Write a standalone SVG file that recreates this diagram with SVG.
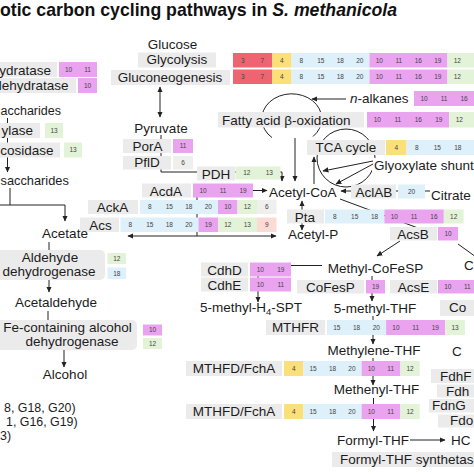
<svg xmlns="http://www.w3.org/2000/svg" width="474" height="474" viewBox="0 0 474 474">
<defs>
<style>
.t{font-family:"Liberation Sans",Arial,sans-serif;font-size:13.5px;fill:#1c1c1c}
.m{text-anchor:middle}
.e{text-anchor:end}
.bx{fill:#ebebeb}
.c{font-family:"Liberation Sans",Arial,sans-serif;font-size:6.5px;text-anchor:middle;fill:#444}
.r{fill:#ee6572}.y{fill:#fbe07a}.b{fill:#def0fa}.p{fill:#e9a3ef}.g{fill:#e3f3d8}.s{fill:#fbdbd3}.w{fill:#efefed}
.ln{stroke:#222;stroke-width:1;fill:none}
.ar{marker-end:url(#ah)}
.ar2{marker-start:url(#ah);marker-end:url(#ah)}
</style>
<marker id="ah" viewBox="0 0 10 10" refX="9" refY="5" markerWidth="6" markerHeight="6" orient="auto-start-reverse"><path d="M0,0.5 L10,5 L0,9.5 z" fill="#222"/></marker>
</defs>
<rect width="474" height="474" fill="#fff"/>
<text x="0" y="15.5" font-family="Liberation Sans, Arial, sans-serif" font-weight="bold" font-size="17.7" fill="#111">otic carbon cycling pathways in <tspan font-style="italic">S. methanicola</tspan></text>

<g id="connectors">
<line class="ln ar2" x1="160" y1="87" x2="160" y2="117"/>
<line class="ln ar" x1="7.5" y1="118" x2="7.5" y2="172"/>
<path class="ln" d="M10,188 V205"/>
<path class="ln ar" d="M-2,205 H65 V221"/>
<path class="ln ar" d="M161,135 V172 H282 V181"/>
<line class="ln ar2" x1="128" y1="236" x2="276" y2="236"/>
<path class="ln ar" d="M197,236 V190.5 H267"/>
<path class="ln" d="M272,137.6 A30,25 0 1 1 313,136.5"/>
<line class="ln ar" x1="346" y1="99" x2="312" y2="99"/>
<line class="ln ar" x1="295" y1="138" x2="295" y2="181"/>
<line class="ln ar" x1="314" y1="184" x2="314" y2="157"/>
<circle class="ln" cx="346" cy="158" r="29"/>
<line class="ln ar" x1="430" y1="191" x2="341" y2="191"/>
<line class="ln ar2" x1="302" y1="201" x2="302" y2="230"/>
<line class="ln" x1="340" y1="199" x2="418" y2="228"/>
<line class="ln ar" x1="400" y1="241" x2="377" y2="256"/>
<line class="ln" x1="458" y1="244" x2="476" y2="257"/>
<path class="ln ar" d="M322,265.5 H258 V302"/>
<line class="ln ar" x1="372" y1="276" x2="372" y2="301"/>
<line class="ln ar" x1="373" y1="316" x2="373" y2="344"/>
<line class="ln ar" x1="373" y1="358" x2="373" y2="385"/>
<line class="ln ar" x1="373.5" y1="398" x2="373.5" y2="431"/>
<line class="ln ar" x1="410" y1="440" x2="445" y2="440"/>
<line class="ln ar" x1="49" y1="242" x2="49" y2="292"/>
<line class="ln" x1="48" y1="311" x2="48" y2="321"/>
<line class="ln ar" x1="64" y1="345" x2="64" y2="367"/>
</g>

<g id="glyoxylate">
<rect x="372" y="158" width="104" height="15" fill="#fff"/>
<text class="t" x="374" y="170">Glyoxylate shunt</text>
<line class="ln ar" x1="373" y1="161" x2="323" y2="171"/>
<line class="ln ar" x1="373" y1="164" x2="336" y2="184"/>
</g>

<g id="dehydratase1">
<rect class="bx" x="-2" y="62" width="59" height="15"/>
<text class="t e" x="51" y="74.5">ydratase</text>
<rect class="p" x="59" y="62" width="19" height="15"/><text class="c" x="68.5" y="71.8">10</text>
<rect class="p" x="78" y="62" width="19" height="15"/><text class="c" x="87.5" y="71.8">11</text>
</g>
<g id="dehydratase2">
<rect class="bx" x="-2" y="78" width="78" height="15"/>
<text class="t e" x="68.5" y="90">lehydratase</text>
<rect class="p" x="78" y="78" width="19" height="15"/><text class="c" x="87.5" y="87.8">10</text>
</g>
<g id="polysaccharides"><text class="t" x="0.5" y="115" style="font-size:12.5px">accharides</text></g>
<g id="ylase">
<rect class="bx" x="-2" y="123" width="42" height="15"/>
<text class="t e" x="33" y="135">ylase</text>
<rect class="g" x="45" y="123" width="18" height="15"/><text class="c" x="54" y="132.8">13</text>
</g>
<g id="cosidase">
<rect class="bx" x="-2" y="142.5" width="62" height="15"/>
<text class="t e" x="53.5" y="155">cosidase</text>
<rect class="g" x="64" y="142.5" width="18" height="15"/><text class="c" x="73" y="152.3">13</text>
</g>
<g id="saccharides"><text class="t" x="0.5" y="185" style="font-size:12.8px">saccharides</text></g>

<g id="glucose"><text class="t m" x="172.5" y="49">Glucose</text></g>
<g id="glycolysis">
<rect class="bx" x="138" y="52.5" width="78" height="15"/>
<text class="t m" x="177" y="64">Glycolysis</text>
<rect class="r" x="233" y="53" width="39" height="14.5"/>
<rect class="y" x="272" y="53" width="19.5" height="14.5"/>
<rect class="b" x="291.5" y="53" width="78" height="14.5"/>
<rect class="p" x="369.5" y="53" width="78" height="14.5"/>
<rect class="g" x="447.5" y="53" width="30" height="14.5"/>
<text class="c" x="242.75" y="62.5">3</text><text class="c" x="262.25" y="62.5">7</text><text class="c" x="281.75" y="62.5">4</text>
<text class="c" x="301.25" y="62.5">8</text><text class="c" x="320.75" y="62.5">15</text><text class="c" x="340.25" y="62.5">18</text><text class="c" x="359.75" y="62.5">20</text>
<text class="c" x="379.25" y="62.5">10</text><text class="c" x="398.75" y="62.5">11</text><text class="c" x="418.25" y="62.5">16</text><text class="c" x="437.75" y="62.5">19</text>
<text class="c" x="457.25" y="62.5">12</text>
</g>
<g id="gluconeogenesis">
<rect class="bx" x="111" y="70" width="119" height="15"/>
<text class="t m" x="170" y="82">Gluconeogenesis</text>
<rect class="r" x="233" y="69.5" width="39" height="14.5"/>
<rect class="y" x="272" y="69.5" width="19.5" height="14.5"/>
<rect class="b" x="291.5" y="69.5" width="78" height="14.5"/>
<rect class="p" x="369.5" y="69.5" width="78" height="14.5"/>
<rect class="g" x="447.5" y="69.5" width="30" height="14.5"/>
<text class="c" x="242.75" y="79">3</text><text class="c" x="262.25" y="79">7</text><text class="c" x="281.75" y="79">4</text>
<text class="c" x="301.25" y="79">8</text><text class="c" x="320.75" y="79">15</text><text class="c" x="340.25" y="79">18</text><text class="c" x="359.75" y="79">20</text>
<text class="c" x="379.25" y="79">10</text><text class="c" x="398.75" y="79">11</text><text class="c" x="418.25" y="79">16</text><text class="c" x="437.75" y="79">19</text>
<text class="c" x="457.25" y="79">12</text>
</g>

<g id="nalkanes">
<text class="t" x="350" y="103"><tspan font-style="italic">n</tspan>-alkanes</text>
<rect class="p" x="414" y="91" width="62" height="15"/>
<text class="c" x="424" y="100.8">10</text><text class="c" x="444" y="100.8">11</text><text class="c" x="464" y="100.8">16</text>
</g>
<g id="betaox">
<rect class="bx" x="218" y="112" width="146" height="15.5"/>
<text class="t" x="222" y="124.5">Fatty acid β-oxidation</text>
<rect class="p" x="367" y="112" width="82" height="15.5"/>
<rect class="g" x="449" y="112" width="30" height="15.5"/>
<text class="c" x="377.25" y="122">10</text><text class="c" x="397.75" y="122">11</text><text class="c" x="418.25" y="122">16</text><text class="c" x="438.75" y="122">19</text><text class="c" x="459.25" y="122">12</text>
</g>
<g id="tca">
<rect class="bx" x="307" y="140" width="78" height="15"/>
<text class="t m" x="346" y="152">TCA cycle</text>
<rect class="y" x="386" y="140" width="20.5" height="15"/>
<rect class="b" x="406.5" y="140" width="72" height="15"/>
<text class="c" x="396.25" y="149.8">4</text><text class="c" x="416.75" y="149.8">8</text><text class="c" x="437.25" y="149.8">15</text><text class="c" x="457.75" y="149.8">18</text>
</g>

<g id="pyruvate"><text class="t m" x="161" y="133">Pyruvate</text></g>
<g id="pora">
<rect class="bx" x="123" y="139" width="48" height="14"/>
<text class="t m" x="147.5" y="150.5">PorA</text>
<rect class="p" x="173" y="139" width="20" height="14"/><text class="c" x="183" y="148.3">11</text>
</g>
<g id="pfld">
<rect class="bx" x="123" y="156" width="48" height="13.5"/>
<text class="t m" x="147" y="167">PflD</text>
<rect class="w" x="173" y="156" width="20" height="13.5"/><text class="c" x="183" y="165">6</text>
</g>
<g id="pdh">
<rect class="bx" x="197" y="166.5" width="38" height="14"/>
<text class="t m" x="216" y="178.5">PDH</text>
<rect class="g" x="235.5" y="166.5" width="45" height="13"/>
<text class="c" x="246.75" y="175.3">12</text><text class="c" x="269.25" y="175.3">13</text>
</g>
<g id="acda">
<rect class="bx" x="142" y="183.5" width="49" height="14"/>
<text class="t m" x="166" y="195.5">AcdA</text>
<rect class="p" x="193" y="183.5" width="60" height="14"/>
<text class="c" x="203" y="192.8">10</text><text class="c" x="223" y="192.8">11</text><text class="c" x="243" y="192.8">19</text>
</g>
<g id="acka">
<rect class="bx" x="88" y="200" width="50" height="14"/>
<text class="t m" x="112.5" y="212">AckA</text>
<rect class="b" x="140" y="200" width="78" height="14"/>
<rect class="p" x="218" y="200" width="19.5" height="14"/>
<rect class="g" x="237.5" y="200" width="19.5" height="14"/>
<rect class="w" x="257" y="200" width="19.5" height="14"/>
<text class="c" x="149.75" y="209.3">8</text><text class="c" x="169.25" y="209.3">15</text><text class="c" x="188.75" y="209.3">18</text><text class="c" x="208.25" y="209.3">20</text>
<text class="c" x="227.75" y="209.3">10</text><text class="c" x="247.25" y="209.3">12</text><text class="c" x="266.75" y="209.3">6</text>
</g>
<g id="acs">
<rect class="bx" x="80" y="217.5" width="39" height="14.5"/>
<text class="t m" x="100.5" y="229.5">Acs</text>
<rect class="b" x="120.5" y="217.5" width="78" height="14.5"/>
<rect class="p" x="198.5" y="217.5" width="19.5" height="14.5"/>
<rect class="g" x="218" y="217.5" width="39" height="14.5"/>
<rect class="s" x="257" y="217.5" width="19.5" height="14.5"/>
<text class="c" x="130.25" y="227">8</text><text class="c" x="149.75" y="227">15</text><text class="c" x="169.25" y="227">18</text><text class="c" x="188.75" y="227">20</text>
<text class="c" x="208.25" y="227">19</text><text class="c" x="227.75" y="227">12</text><text class="c" x="247.25" y="227">13</text><text class="c" x="266.75" y="227">9</text>
</g>
<g id="acetate"><text class="t m" x="65" y="238">Acetate</text></g>
<g id="acetylcoa"><text class="t" x="269" y="197">Acetyl-CoA</text></g>
<g id="pta">
<rect class="bx" x="287" y="209.5" width="37" height="14"/>
<text class="t m" x="305" y="221.5">Pta</text>
<rect class="b" x="325" y="209.5" width="59.4" height="14"/>
<rect class="p" x="384.4" y="209.5" width="59.4" height="14"/>
<rect class="g" x="443.8" y="209.5" width="19.8" height="14"/>
<text class="c" x="334.9" y="218.8">8</text><text class="c" x="354.7" y="218.8">15</text><text class="c" x="374.5" y="218.8">18</text>
<text class="c" x="394.3" y="218.8">10</text><text class="c" x="414.1" y="218.8">11</text><text class="c" x="433.9" y="218.8">16</text><text class="c" x="453.7" y="218.8">12</text>
</g>
<g id="acetylp"><text class="t" x="288" y="238.5">Acetyl-P</text></g>
<g id="aclab">
<rect class="bx" x="351" y="184.5" width="45" height="14"/>
<text class="t m" x="374" y="196.5">AclAB</text>
<rect class="b" x="398" y="184.5" width="27" height="14"/><text class="c" x="411.5" y="193.8">20</text>
</g>
<g id="citrate"><text class="t" x="431" y="200">Citrate</text></g>
<g id="acsb">
<rect class="bx" x="390" y="227" width="47" height="13.5"/>
<text class="t m" x="413" y="238.5">AcsB</text>
<rect class="p" x="438" y="227" width="20" height="13.5"/><text class="c" x="448" y="236">10</text>
</g>
<g id="c-top"><text class="t" x="464" y="270">C</text></g>

<g id="aldehyde-dh">
<rect class="bx" x="-6" y="250" width="111" height="30" rx="5"/>
<text class="t m" x="50" y="262">Aldehyde</text>
<text class="t m" x="49" y="276">dehydrogenase</text>
<rect class="g" x="107.5" y="253" width="18.5" height="11"/><text class="c" x="116.75" y="260.8">12</text>
<rect class="b" x="107.5" y="267.5" width="18.5" height="11.5"/><text class="c" x="116.75" y="275.5">18</text>
</g>
<g id="acetaldehyde"><text class="t m" x="56" y="307">Acetaldehyde</text></g>
<g id="fe-adh">
<rect class="bx" x="-6" y="320" width="143" height="30" rx="5"/>
<text class="t m" x="67.5" y="332">Fe-containing alcohol</text>
<text class="t m" x="72" y="346">dehydrogenase</text>
<rect class="p" x="143" y="324.5" width="19" height="11"/><text class="c" x="152.5" y="332.3">10</text>
<rect class="g" x="143" y="338" width="19" height="11"/><text class="c" x="152.5" y="345.8">12</text>
</g>
<g id="alcohol"><text class="t m" x="65" y="379">Alcohol</text></g>

<g id="legend" font-family="Liberation Sans, Arial, sans-serif" font-size="12.4" fill="#1c1c1c">
<text x="4" y="411.5">8, G18, G20)</text>
<text x="6" y="425.5">1, G16, G19)</text>
<text x="0" y="439.5">3)</text>
</g>

<g id="methylcofesp"><text class="t m" x="375.5" y="273">Methyl-CoFeSP</text></g>
<g id="cdhd">
<rect class="bx" x="201" y="262.5" width="47" height="14"/>
<text class="t m" x="224.5" y="274.5">CdhD</text>
<rect class="p" x="250" y="262.5" width="41" height="14"/>
<text class="c" x="260.25" y="271.8">10</text><text class="c" x="280.75" y="271.8">19</text>
</g>
<g id="cdhe">
<rect class="bx" x="201" y="277.5" width="47" height="14"/>
<text class="t m" x="224.5" y="289.5">CdhE</text>
<rect class="p" x="250" y="277.5" width="41" height="14"/>
<text class="c" x="260.25" y="286.8">10</text><text class="c" x="280.75" y="286.8">11</text>
</g>
<g id="methyl-h4spt"><text class="t" x="200" y="312">5-methyl-H<tspan font-size="9.5" dy="3">4</tspan><tspan dy="-3">-SPT</tspan></text></g>
<g id="cofesp">
<rect class="bx" x="297" y="280" width="67" height="13.5"/>
<text class="t m" x="330.5" y="291.5">CoFesP</text>
<rect class="p" x="366" y="280" width="19" height="13.5"/><text class="c" x="375.5" y="289">19</text>
</g>
<g id="acse">
<rect class="bx" x="390" y="280" width="47" height="13.5"/>
<text class="t m" x="413.5" y="291.5">AcsE</text>
<rect class="p" x="438" y="280" width="39" height="13.5"/>
<text class="c" x="447.75" y="289">10</text><text class="c" x="467.25" y="289">11</text>
</g>
<g id="methylthf"><text class="t m" x="375" y="313">5-methyl-THF</text></g>
<g id="co-box">
<rect class="bx" x="440" y="300" width="40" height="16"/>
<text class="t" x="449" y="312">Co</text>
</g>
<g id="mthfr">
<rect class="bx" x="266" y="320" width="59" height="15"/>
<text class="t m" x="295.5" y="332">MTHFR</text>
<rect class="b" x="327" y="320" width="59.1" height="15"/>
<rect class="p" x="386.1" y="320" width="59.1" height="15"/>
<rect class="g" x="445.2" y="320" width="19.7" height="15"/>
<text class="c" x="336.85" y="329.8">15</text><text class="c" x="356.55" y="329.8">18</text><text class="c" x="376.25" y="329.8">20</text>
<text class="c" x="395.95" y="329.8">10</text><text class="c" x="415.65" y="329.8">11</text><text class="c" x="435.35" y="329.8">19</text><text class="c" x="455.05" y="329.8">13</text>
</g>
<g id="methylenethf"><text class="t m" x="374" y="355">Methylene-THF</text></g>
<g id="c-mid"><text class="t" x="452" y="356">C</text></g>
<g id="mthfd1">
<rect class="bx" x="186" y="361" width="96" height="15"/>
<text class="t m" x="234" y="373">MTHFD/FchA</text>
<rect class="y" x="284" y="361" width="19.4" height="15"/>
<rect class="b" x="303.4" y="361" width="58.2" height="15"/>
<rect class="p" x="361.6" y="361" width="38.8" height="15"/>
<rect class="g" x="400.4" y="361" width="19.4" height="15"/>
<text class="c" x="293.7" y="370.8">4</text><text class="c" x="313.1" y="370.8">15</text><text class="c" x="332.5" y="370.8">18</text><text class="c" x="351.9" y="370.8">20</text>
<text class="c" x="371.3" y="370.8">10</text><text class="c" x="390.7" y="370.8">11</text><text class="c" x="410.1" y="370.8">12</text>
</g>
<g id="methenylthf"><text class="t m" x="376.5" y="394">Methenyl-THF</text></g>
<g id="mthfd2">
<rect class="bx" x="186" y="404" width="96" height="15"/>
<text class="t m" x="234" y="416">MTHFD/FchA</text>
<rect class="y" x="284" y="404" width="19.4" height="15"/>
<rect class="b" x="303.4" y="404" width="58.2" height="15"/>
<rect class="p" x="361.6" y="404" width="38.8" height="15"/>
<rect class="g" x="400.4" y="404" width="19.4" height="15"/>
<text class="c" x="293.7" y="413.8">4</text><text class="c" x="313.1" y="413.8">15</text><text class="c" x="332.5" y="413.8">18</text><text class="c" x="351.9" y="413.8">20</text>
<text class="c" x="371.3" y="413.8">10</text><text class="c" x="390.7" y="413.8">11</text><text class="c" x="410.1" y="413.8">12</text>
</g>
<g id="formylthf"><text class="t" x="337" y="445">Formyl-THF</text></g>
<g id="hc"><text class="t" x="451" y="445">HC</text></g>
<g id="fthfs">
<rect class="bx" x="332" y="452" width="145" height="15"/>
<text class="t" x="340" y="464">Formyl-THF synthetas</text>
</g>
<g id="fdhf"><rect class="bx" x="431" y="369" width="45" height="14"/><text class="t" x="440" y="381">FdhF</text></g>
<g id="fdh"><rect class="bx" x="437" y="384.5" width="40" height="13"/><text class="t" x="446" y="395.5">Fdh</text></g>
<g id="fdng"><rect class="bx" x="429" y="399" width="47" height="13.5"/><text class="t" x="432" y="410">FdnG</text></g>
<g id="fdo"><rect class="bx" x="438" y="414.5" width="38" height="13"/><text class="t" x="450" y="425">Fdo</text></g>
</svg>
